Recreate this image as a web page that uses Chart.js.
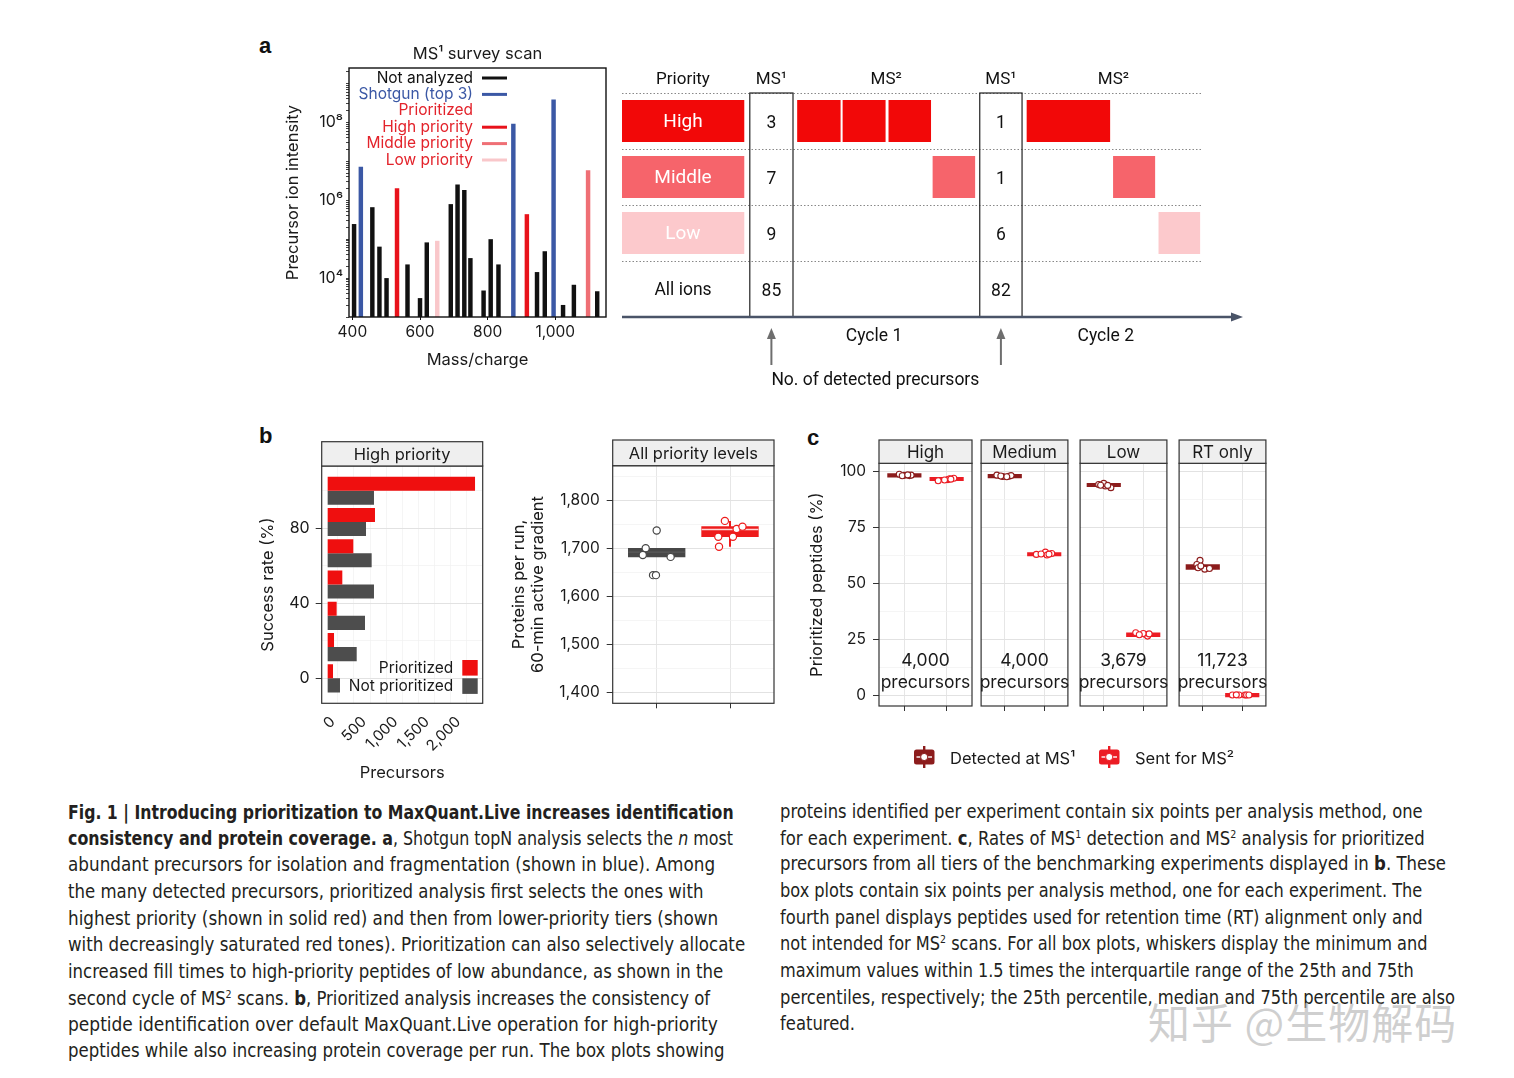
<!DOCTYPE html>
<html>
<head>
<meta charset="utf-8">
<script src="https://cdn.jsdelivr.net/npm/chart.js@4.4.1/dist/chart.umd.min.js"></script>
<style>
  html, body { margin: 0; padding: 0; background: #fff; }
  body { width: 1514px; height: 1078px; position: relative; overflow: hidden; }
  canvas { position: absolute; }
  .tag { position: absolute; font: bold 22px "Liberation Sans", Arial, sans-serif; color: #111; }
  .ln { position: absolute; white-space: nowrap; font: 19px "Liberation Sans Narrow", "DejaVu Sans Condensed", "Liberation Sans", sans-serif;
        color: #231f20; line-height: 26px; transform-origin: 0 50%; }
  .ln sup { font-size: 11px; line-height: 10px; vertical-align: 7px; }
  .wm { position: absolute; left: 1148px; top: 990px; font: 42px "Noto Sans CJK SC", sans-serif; color: rgba(175,175,175,0.6); letter-spacing: 1px; }
</style>
</head>
<body>
<div class="tag" style="left:259px;top:33px">a</div>
<div class="tag" style="left:259px;top:423px">b</div>
<div class="tag" style="left:807px;top:425px">c</div>

<div class="ln" data-w="666" style="left:68px;top:799px"><b>Fig. 1 | Introducing prioritization to MaxQuant.Live increases identification</b></div>
<div class="ln" data-w="665" style="left:68px;top:825px"><b>consistency and protein coverage. a</b>, Shotgun topN analysis selects the <i>n</i> most</div>
<div class="ln" data-w="647" style="left:68px;top:851px">abundant precursors for isolation and fragmentation (shown in blue). Among</div>
<div class="ln" data-w="635" style="left:68px;top:878px">the many detected precursors, prioritized analysis first selects the ones with</div>
<div class="ln" data-w="650" style="left:68px;top:905px">highest priority (shown in solid red) and then from lower-priority tiers (shown</div>
<div class="ln" data-w="677" style="left:68px;top:931px">with decreasingly saturated red tones). Prioritization can also selectively allocate</div>
<div class="ln" data-w="655" style="left:68px;top:958px">increased fill times to high-priority peptides of low abundance, as shown in the</div>
<div class="ln" data-w="642" style="left:68px;top:985px">second cycle of MS<sup>2</sup> scans. <b>b</b>, Prioritized analysis increases the consistency of</div>
<div class="ln" data-w="650" style="left:68px;top:1011px">peptide identification over default MaxQuant.Live operation for high-priority</div>
<div class="ln" data-w="657" style="left:68px;top:1037px">peptides while also increasing protein coverage per run. The box plots showing</div>

<div class="ln" data-w="643" style="left:780px;top:798px">proteins identified per experiment contain six points per analysis method, one</div>
<div class="ln" data-w="645" style="left:780px;top:825px">for each experiment. <b>c</b>, Rates of MS<sup>1</sup> detection and MS<sup>2</sup> analysis for prioritized</div>
<div class="ln" data-w="666" style="left:780px;top:850px">precursors from all tiers of the benchmarking experiments displayed in <b>b</b>. These</div>
<div class="ln" data-w="642" style="left:780px;top:877px">box plots contain six points per analysis method, one for each experiment. The</div>
<div class="ln" data-w="643" style="left:780px;top:904px">fourth panel displays peptides used for retention time (RT) alignment only and</div>
<div class="ln" data-w="648" style="left:780px;top:930px">not intended for MS<sup>2</sup> scans. For all box plots, whiskers display the minimum and</div>
<div class="ln" data-w="634" style="left:780px;top:957px">maximum values within 1.5 times the interquartile range of the 25th and 75th</div>
<div class="ln" data-w="675" style="left:780px;top:984px">percentiles, respectively; the 25th percentile, median and 75th percentile are also</div>
<div class="ln" data-w="75" style="left:780px;top:1010px">featured.</div>
<div class="wm">知乎 @生物解码</div>

<script>
// ---- a: MS1 survey scan (m/z and intensity of each precursor)
const mzNotAnalyzed = [405, 459, 480, 501, 563, 600, 620, 691, 711, 731, 749, 788, 809, 832, 946, 969, 1023, 1055, 1124];
const intNotAnalyzed = [2.4e5, 6.5e5, 6.3e4, 9.8e3, 2.2e4, 3.0e3, 8.1e4, 7.8e5, 2.5e6, 1.8e6, 3.2e4, 4.7e3, 9.8e4, 2.2e4, 1.4e4, 4.8e4, 2.0e3, 6.6e3, 4.5e3];
const mzShotgun = [425, 876, 995];
const intShotgun = [7.1e6, 9.1e7, 3.8e8];
const mzHigh = [532, 916];
const intHigh = [2.0e6, 4.3e5];
const mzMiddle = [1097];
const intMiddle = [5.8e6];
const mzLow = [651];
const intLow = [8.9e4];
const mzTicks = [400, 600, 800, 1000];
const intensityLabels = { 4: '10⁴', 6: '10⁶', 8: '10⁸' };

// ---- a: acquisition cycles (time in scan slots)
const priorityRows = ['High', 'Middle', 'Low', 'All ions'];
const tierBox = [0, 2.71];
const ms1Windows = [[2.84, 3.8], [7.95, 8.89]];
const ms1Detected = [[3, 7, 9, 85], [1, 1, 6, 82]];
const ms2Rows = ['High', 'High', 'High', 'Middle', 'High', 'Middle', 'Low'];
const ms2Start = [3.90, 4.91, 5.93, 6.91, 9.0, 10.92, 11.93];
const ms2End = [4.85, 5.85, 6.86, 7.84, 10.84, 11.84, 12.84];
const cycleLabels = ['Cycle 1', 'Cycle 2'];
const cycleLabelAt = [5.6, 10.75];

// ---- b: success rate vs precursors
const successRate = [0, 16.67, 33.33, 50, 66.67, 83.33, 100];
const precursorsPrioritized = [85, 101, 143, 233, 408, 753, 2345];
const precursorsNotPrioritized = [196, 462, 594, 737, 700, 610, 737];
const precursorTicks = [0, 500, 1000, 1500, 2000];

// ---- b: proteins per run
const proteinGroups = ['Not prioritized', 'Prioritized'];
const proteinsPerRun = [[1738, 1701, 1687, 1683, 1645, 1645], [1758, 1741, 1746, 1725, 1725, 1704]];
const proteinsJitter = [[0, -0.15, -0.19, 0.19, -0.05, -0.01], [-0.07, 0.09, 0.17, -0.16, 0.04, -0.15]];
const proteinsBox = [[1683, 1693, 1701], [1725, 1740, 1746]]; // q1, median, q3
const proteinsWhisker = [null, [1704, 1758]];

// ---- c: prioritized peptides (%)
const tiers = ['High', 'Medium', 'Low', 'RT only'];
const tierPrecursors = ['4,000', '4,000', '3,679', '11,723'];
const detectedBox = [[97.6, 98.5, 98.9], [97.3, 98.0, 98.6], [93.3, 94.1, 94.8], [56.3, 57.4, 58.4]];
const sentBox = [[96.0, 96.6, 97.4], [62.3, 63.1, 63.5], [26.2, 27.2, 27.9], [0, 0, 0]];
const detectedPts = [[98.9, 98.4, 98.3, 98.5, 98.2, 98.6], [98.5, 97.9, 98.0, 98.3, 97.8, 98.1],
                     [94.3, 93.6, 92.9, 94.8, 94.0, 93.9], [60.3, 58.5, 57.0, 56.4, 56.7, 57.8]];
const sentPts = [[96.0, 96.5, 96.9, 97.1, 96.3, 96.7], [63.0, 64.0, 62.7, 63.4, 63.2, 63.1],
                 [27.9, 27.2, 26.4, 27.6, 27.0, 27.4], [0, 0, 0, 0, 0, 0.1]];
const detectedJitter = [[-0.12, 0.0, 0.12, 0.16, -0.05, 0.08], [-0.2, -0.05, 0.1, 0.16, 0.05, -0.1],
                        [-0.13, 0.04, 0.18, 0.0, -0.08, 0.1], [-0.07, -0.15, -0.12, 0.05, 0.17, -0.05]];
const sentJitter = [[-0.2, 0.03, 0.07, 0.17, -0.05, 0.1], [-0.2, 0.03, 0.07, 0.19, -0.08, 0.12],
                    [-0.19, 0.05, 0.11, 0.0, -0.1, 0.15], [-0.25, -0.08, 0.07, 0.11, 0.17, -0.15]];

Chart.defaults.font.family = 'Inter, "Noto Sans", sans-serif';
Chart.defaults.font.size = 15;
Chart.defaults.color = '#1a1a1a';
Chart.defaults.animation = false;
Chart.defaults.responsive = false;
Chart.defaults.plugins.legend.display = false;
Chart.defaults.plugins.tooltip.enabled = false;

const FONT = 'Inter, "Noto Sans", sans-serif';
const NARROW = 'Roboto, "Noto Sans", sans-serif';

function mk(left, top, w, h) {
  const c = document.createElement('canvas');
  c.width = w; c.height = h;
  c.style.left = left + 'px'; c.style.top = top + 'px';
  c.style.width = w + 'px'; c.style.height = h + 'px';
  document.body.appendChild(c);
  return c;
}

function frame(ctx, a) {
  ctx.save();
  ctx.strokeStyle = '#333'; ctx.lineWidth = 1.2;
  ctx.strokeRect(a.left, a.top, a.right - a.left, a.bottom - a.top);
  ctx.restore();
}

function strip(ctx, a, top, text, size) {
  ctx.save();
  ctx.fillStyle = '#efefef';
  ctx.fillRect(a.left, top, a.right - a.left, a.top - top);
  ctx.strokeStyle = '#333'; ctx.lineWidth = 1.2;
  ctx.strokeRect(a.left, top, a.right - a.left, a.top - top);
  ctx.fillStyle = '#1a1a1a'; ctx.font = size + 'px ' + FONT;
  ctx.textAlign = 'center'; ctx.textBaseline = 'middle';
  ctx.fillText(text, (a.left + a.right) / 2, (top + a.top) / 2 + 1);
  ctx.restore();
}

// grid for ggplot-like major / minor lines
function ggGrid(isMajor, tickLength, drawTicks) {
  return {
    offset: false,
    drawTicks: drawTicks !== false,
    tickLength: tickLength,
    color: c => (c.tick && isMajor(c.tick.value)) ? '#e2e2e2' : '#f0f0f0',
    lineWidth: c => (c.tick && isMajor(c.tick.value)) ? 1 : 0.7,
    tickColor: c => (c.tick && isMajor(c.tick.value)) ? '#333' : 'rgba(0,0,0,0)'
  };
}

// ================= a, left: survey scan =================
const scanSets = [
  ['Not analyzed', mzNotAnalyzed, intNotAnalyzed, '#111111', '#111111'],
  ['Shotgun (top 3)', mzShotgun, intShotgun, '#3b58a5', '#3b58a5'],
  ['High priority', mzHigh, intHigh, '#e8121b', '#e3232b'],
  ['Middle priority', mzMiddle, intMiddle, '#ef6f75', '#e3232b'],
  ['Low priority', mzLow, intLow, '#f9c7ca', '#e3232b']
];

const surveyDecor = {
  id: 'surveyDecor',
  afterDraw(chart) {
    const { ctx, chartArea: a } = chart;
    ctx.save();
    ctx.strokeStyle = '#111'; ctx.lineWidth = 1.4;
    ctx.strokeRect(a.left, a.top, a.right - a.left, a.bottom - a.top);
    ctx.fillStyle = '#1a1a1a'; ctx.textAlign = 'center'; ctx.textBaseline = 'middle';
    ctx.font = '16.5px ' + FONT;
    ctx.fillText('MS¹ survey scan', (a.left + a.right) / 2, 19);
    // legend
    const rows = [scanSets[0], scanSets[1], ['Prioritized', null, null, null, '#e3232b'], scanSets[2], scanSets[3], scanSets[4]];
    ctx.font = '15.5px ' + FONT; ctx.textAlign = 'right';
    rows.forEach((r, i) => {
      const yy = 43 + i * 16.4;
      ctx.fillStyle = r[4];
      ctx.fillText(r[0], 193, yy);
      if (r[3]) {
        ctx.strokeStyle = r[3]; ctx.lineWidth = 3;
        ctx.beginPath(); ctx.moveTo(202, yy); ctx.lineTo(227, yy); ctx.stroke();
      }
    });
    ctx.restore();
  }
};

function logTicks(min, max) {
  const t = [];
  for (let e = 3; e <= 9; e++) {
    for (let m = 1; m <= 9; m++) {
      const v = m * Math.pow(10, e);
      if (v >= min && v <= max) t.push({ value: v });
    }
  }
  return t;
}

new Chart(mk(280, 35, 340, 345), {
  type: 'bar',
  data: {
    datasets: scanSets.map(s => ({
      label: s[0],
      data: s[1].map((mz, i) => ({ x: mz, y: s[2][i] })),
      backgroundColor: s[3]
    }))
  },
  options: {
    layout: { padding: { top: 33, right: 14, left: 0, bottom: 0 } },
    datasets: { bar: { grouped: false, barThickness: 3.8 } },
    scales: {
      x: {
        type: 'linear', min: 390, max: 1150, offset: false,
        afterBuildTicks: s => { s.ticks = mzTicks.map(v => ({ value: v })); },
        ticks: { autoSkip: false, maxRotation: 0, padding: 3, font: { size: 15.5 }, callback: v => v.toLocaleString('en-US') },
        grid: { offset: false, drawOnChartArea: false, tickLength: 3, color: '#111' },
        border: { display: false },
        title: { display: true, text: 'Mass/charge', font: { size: 16.5 }, padding: { top: 0, bottom: 10 } },
        afterFit: s => { s.height = 63; }
      },
      y: {
        type: 'logarithmic', min: 1e3, max: 2.5e9,
        afterBuildTicks: s => { s.ticks = logTicks(1e3, 2.5e9); },
        ticks: { autoSkip: false, padding: 3, font: { size: 16 },
                 callback: v => { const e = Math.log10(v); return Number.isInteger(e) && intensityLabels[e] ? intensityLabels[e] : ''; } },
        grid: { drawOnChartArea: false, tickLength: 3, color: '#111', lineWidth: 0.8 },
        border: { display: false },
        title: { display: true, text: 'Precursor ion intensity', font: { size: 16.5 }, padding: { top: 3, bottom: 0 } },
        afterFit: s => { s.width = 69; }
      }
    }
  },
  plugins: [surveyDecor]
});

// ================= a, right: acquisition cycles =================
const rowColor = { High: '#f20808', Middle: '#f6646b', Low: '#fcc9cc' };

function arrowHead(ctx, x, y, dx, dy, len, half) {
  const nx = -dy, ny = dx;
  ctx.beginPath();
  ctx.moveTo(x, y);
  ctx.lineTo(x - dx * len + nx * half, y - dy * len + ny * half);
  ctx.lineTo(x - dx * len - nx * half, y - dy * len - ny * half);
  ctx.closePath(); ctx.fill();
}

const cycleDecor = {
  id: 'cycleDecor',
  beforeDatasetsDraw(chart) {
    const { ctx, scales: { x, y } } = chart;
    const step = y.getPixelForValue(1) - y.getPixelForValue(0);
    ctx.save();
    ctx.strokeStyle = '#888'; ctx.lineWidth = 1; ctx.setLineDash([1.5, 2]);
    for (let i = 0; i < priorityRows.length; i++) {
      const py = Math.round(y.getPixelForValue(i) - step / 2) + 0.5;
      ctx.beginPath(); ctx.moveTo(x.getPixelForValue(0), py); ctx.lineTo(x.getPixelForValue(12.9), py); ctx.stroke();
    }
    ctx.restore();
  },
  afterDatasetsDraw(chart) {
    const { ctx, chartArea: a, scales: { x, y } } = chart;
    const step = y.getPixelForValue(1) - y.getPixelForValue(0);
    const top = y.getPixelForValue(0) - step / 2;
    const cx = w => x.getPixelForValue((w[0] + w[1]) / 2);
    ctx.save();
    // MS1 windows
    ctx.strokeStyle = '#222'; ctx.lineWidth = 1.2;
    ms1Windows.forEach(w => {
      const x0 = x.getPixelForValue(w[0]), x1 = x.getPixelForValue(w[1]);
      ctx.strokeRect(x0, top, x1 - x0, a.bottom - top);
    });
    // time axis
    const ax0 = x.getPixelForValue(0), ax1 = x.getPixelForValue(x.max);
    ctx.strokeStyle = '#4a5468'; ctx.fillStyle = '#4a5468'; ctx.lineWidth = 2.5;
    ctx.beginPath(); ctx.moveTo(ax0, a.bottom); ctx.lineTo(ax1 - 8, a.bottom); ctx.stroke();
    arrowHead(ctx, ax1, a.bottom, 1, 0, 12, 4.5);
    // arrows up to MS1 windows
    ctx.strokeStyle = '#6e6e6e'; ctx.fillStyle = '#6e6e6e'; ctx.lineWidth = 2;
    ms1Windows.forEach(w => {
      const px = cx(w);
      ctx.beginPath(); ctx.moveTo(px, 305); ctx.lineTo(px, 276); ctx.stroke();
      arrowHead(ctx, px, 268, 0, -1, 11, 4.5);
    });
    // header row
    ctx.fillStyle = '#111'; ctx.textAlign = 'center'; ctx.textBaseline = 'middle';
    ctx.font = '17px ' + NARROW;
    ctx.fillText('Priority', x.getPixelForValue((tierBox[0] + tierBox[1]) / 2), 19.5);
    ms1Windows.forEach((w, k) => {
      ctx.fillText('MS¹', cx(w), 19.5);
      const inCycle = ms2Start.map((s, i) => i).filter(i => (k === 0 ? ms2Start[i] < ms1Windows[1][0] : ms2Start[i] > ms1Windows[1][0]));
      const s0 = Math.min(...inCycle.map(i => ms2Start[i])), s1 = Math.max(...inCycle.map(i => ms2End[i]));
      ctx.fillText('MS²', x.getPixelForValue((s0 + s1) / 2), 19.5);
    });
    // tier labels
    ctx.font = '19px ' + NARROW; ctx.fillStyle = '#fff';
    priorityRows.slice(0, 3).forEach((r, i) => ctx.fillText(r, x.getPixelForValue((tierBox[0] + tierBox[1]) / 2), y.getPixelForValue(i) + 1));
    ctx.fillStyle = '#111'; ctx.font = '17.5px ' + NARROW;
    ctx.fillText(priorityRows[3], x.getPixelForValue((tierBox[0] + tierBox[1]) / 2), y.getPixelForValue(3) + 2);
    // numbers of detected precursors
    ms1Windows.forEach((w, k) => {
      ms1Detected[k].forEach((n, r) => ctx.fillText(String(n), cx(w), y.getPixelForValue(r) + 3));
    });
    cycleLabels.forEach((t, k) => ctx.fillText(t, x.getPixelForValue(cycleLabelAt[k]), 277));
    ctx.fillText('No. of detected precursors', x.getPixelForValue(5.63), 321);
    ctx.restore();
  }
};

new Chart(mk(610, 60, 650, 335), {
  type: 'bar',
  data: {
    labels: priorityRows,
    datasets: [
      { label: 'tiers', data: priorityRows.slice(0, 3).map(r => ({ y: r, x: tierBox })),
        backgroundColor: c => (c.raw ? rowColor[c.raw.y] : '#f20808') },
      { label: 'MS2 scans', data: ms2Rows.map((r, i) => ({ y: r, x: [ms2Start[i], ms2End[i]] })),
        backgroundColor: c => (c.raw ? rowColor[c.raw.y] : '#f20808') }
    ]
  },
  options: {
    indexAxis: 'y',
    layout: { padding: { left: 12, right: 17, top: 33, bottom: 78 } },
    datasets: { bar: { grouped: false, barThickness: 41.5 } },
    scales: {
      x: { type: 'linear', min: 0, max: 13.8, display: false },
      y: { type: 'category', display: false }
    }
  },
  plugins: [cycleDecor]
});

// ================= b, left: success rate =================
const successDecor = {
  id: 'successDecor',
  afterDraw(chart) {
    const { ctx, chartArea: a, scales: { x } } = chart;
    frame(ctx, a);
    strip(ctx, a, 21.7, 'High priority', 16.5);
    ctx.save();
    // rotated tick labels of the precursor axis
    ctx.fillStyle = '#1a1a1a'; ctx.font = '15px ' + FONT;
    ctx.textAlign = 'right'; ctx.textBaseline = 'middle';
    precursorTicks.forEach(v => {
      ctx.save();
      ctx.translate(x.getPixelForValue(v) + 5, a.bottom + 16);
      ctx.rotate(-Math.PI / 4);
      ctx.fillText(v.toLocaleString('en-US'), 0, 0);
      ctx.restore();
    });
    // legend
    ctx.font = '15.5px ' + FONT;
    chart.data.datasets.forEach((d, i) => {
      const yy = 240 + i * 18.3;
      ctx.fillStyle = d.backgroundColor; ctx.fillRect(207.3, yy, 15.4, 15.6);
      ctx.fillStyle = '#1a1a1a'; ctx.fillText(d.label, 198.3, yy + 8);
    });
    ctx.restore();
  }
};

new Chart(mk(255, 420, 240, 370), {
  type: 'bar',
  data: {
    datasets: [
      { label: 'Prioritized', data: successRate.map((r, i) => ({ y: r, x: precursorsPrioritized[i] })), backgroundColor: '#ef0f0f' },
      { label: 'Not prioritized', data: successRate.map((r, i) => ({ y: r, x: precursorsNotPrioritized[i] })), backgroundColor: '#4d4d4d' }
    ]
  },
  options: {
    indexAxis: 'y',
    layout: { padding: { top: 46, right: 12.3, left: 0, bottom: 0 } },
    datasets: { bar: { categoryPercentage: 0.9, barPercentage: 1 } },
    scales: {
      x: {
        type: 'linear', min: -95, max: 2467, offset: false,
        ticks: { stepSize: 250, includeBounds: false, autoSkip: false, maxRotation: 0, padding: 2, callback: () => '' },
        grid: ggGrid(v => v % 500 === 0, 6),
        border: { display: false },
        title: { display: true, text: 'Precursors', font: { size: 16.5 }, padding: { top: 0, bottom: 7.5 } },
        afterFit: s => { s.height = 86.7; }
      },
      y: {
        type: 'linear', min: -13.3, max: 113.2, offset: false,
        ticks: { stepSize: 20, includeBounds: false, autoSkip: false, padding: 6, font: { size: 16 },
                 callback: v => (v % 40 === 0 ? v : '') },
        grid: ggGrid(v => v % 40 === 0, 6),
        border: { display: false },
        title: { display: true, text: 'Success rate (%)', font: { size: 16.5 }, padding: { top: 3.5, bottom: 0 } },
        afterFit: s => { s.width = 66.7; }
      }
    }
  },
  plugins: [successDecor]
});

// ================= b, right: proteins per run =================
const proteinColors = ['#474747', '#ee1c1c'];
const boxHalf = 0.387;

const proteinDecor = {
  id: 'proteinDecor',
  afterDraw(chart) {
    const { ctx, chartArea: a } = chart;
    frame(ctx, a);
    strip(ctx, a, 10, 'All priority levels', 16.5);
  }
};

const proteinDatasets = [];
proteinGroups.forEach((g, k) => {
  if (proteinsWhisker[k]) {
    proteinDatasets.push({ type: 'line', label: g + ' whisker', order: 4,
      data: [{ x: k + 1, y: proteinsWhisker[k][0] }, { x: k + 1, y: proteinsWhisker[k][1] }],
      borderColor: proteinColors[k], borderWidth: 2, pointRadius: 0 });
  }
  proteinDatasets.push({ type: 'line', label: g + ' median', order: 2,
    data: [{ x: k + 1 - boxHalf, y: proteinsBox[k][1] }, { x: k + 1 + boxHalf, y: proteinsBox[k][1] }],
    borderColor: k === 1 ? '#ffd9d9' : '#5a5a5a', borderWidth: 1.4, pointRadius: 0 });
  proteinDatasets.push({ type: 'scatter', label: g, order: 1,
    data: proteinsPerRun[k].map((v, i) => ({ x: k + 1 + proteinsJitter[k][i], y: v })),
    pointRadius: 3.6, pointBackgroundColor: '#fff', pointBorderColor: proteinColors[k], pointBorderWidth: 1.2 });
});
proteinDatasets.push({ type: 'bar', label: 'box', order: 3,
  data: proteinGroups.map((g, k) => ({ x: k + 1, y: [proteinsBox[k][0], proteinsBox[k][2]] })),
  backgroundColor: proteinColors, grouped: false, barThickness: 56.7 });

new Chart(mk(500, 430, 290, 290), {
  type: 'bar',
  data: { datasets: proteinDatasets },
  options: {
    layout: { padding: { top: 35.7, right: 16, left: 0, bottom: 0 } },
    scales: {
      x: {
        type: 'linear', min: 0.4, max: 2.6, offset: false,
        afterBuildTicks: s => { s.ticks = proteinGroups.map((g, k) => ({ value: k + 1 })); },
        ticks: { display: false },
        grid: { offset: false, color: '#e6e6e6', tickColor: '#333', tickLength: 5 },
        border: { display: false },
        afterFit: s => { s.height = 16.7; }
      },
      y: {
        type: 'linear', min: 1378, max: 1873, offset: false,
        ticks: { stepSize: 50, includeBounds: false, autoSkip: false, padding: 7, font: { size: 15.5 },
                 callback: v => (v % 100 === 0 ? v.toLocaleString('en-US') : '') },
        grid: ggGrid(v => v % 100 === 0, 6),
        border: { display: false },
        title: { display: true, text: ['Proteins per run,', '60-min active gradient'], font: { size: 16.5, lineHeight: 1.12 }, padding: { top: 10, bottom: 0 } },
        afterFit: s => { s.width = 112.7; }
      }
    }
  },
  plugins: [proteinDecor]
});

// ================= c: prioritized peptides =================
const detColor = '#8c1c1c';
const sentColor = '#ec1c24';
const facetLeft = [879, 978, 1077, 1176];
const facetWidth = 93;

function boxIcon(ctx, x, y, color) {
  ctx.save();
  ctx.strokeStyle = color; ctx.fillStyle = color; ctx.lineWidth = 2.4;
  ctx.beginPath(); ctx.moveTo(x + 9.2, y); ctx.lineTo(x + 9.2, y + 22); ctx.stroke();
  ctx.beginPath(); ctx.roundRect(x - 1, y + 3.5, 20.5, 15, 2.5); ctx.fill();
  ctx.strokeStyle = '#fff'; ctx.lineWidth = 1.4;
  ctx.beginPath(); ctx.moveTo(x + 1.5, y + 11); ctx.lineTo(x + 17, y + 11); ctx.stroke();
  ctx.beginPath(); ctx.arc(x + 9.2, y + 11, 3.6, 0, Math.PI * 2);
  ctx.fillStyle = '#fff'; ctx.fill(); ctx.strokeStyle = color; ctx.lineWidth = 1; ctx.stroke();
  ctx.restore();
}

function facetDecor(k) {
  return {
    id: 'facetDecor' + k,
    afterDraw(chart) {
      const { ctx, chartArea: a } = chart;
      frame(ctx, a);
      strip(ctx, a, 15, tiers[k], 17);
      ctx.save();
      ctx.fillStyle = '#1a1a1a'; ctx.font = '17.5px ' + FONT;
      ctx.textAlign = 'center'; ctx.textBaseline = 'middle';
      const mid = (a.left + a.right) / 2;
      ctx.fillText(tierPrecursors[k], mid, 236);
      ctx.fillText('precursors', mid, 257.5);
      if (k === 0) {
        const sets = chart.data.datasets.filter(d => d.type === 'bar');
        ctx.font = '16.5px ' + FONT; ctx.textAlign = 'left';
        boxIcon(ctx, 115, 321, sets[0].backgroundColor);
        ctx.fillText(sets[0].label, 150, 334);
        boxIcon(ctx, 300, 321, sets[1].backgroundColor);
        ctx.fillText(sets[1].label, 335, 334);
      }
      ctx.restore();
    }
  };
}

tiers.forEach((t, k) => {
  const first = k === 0;
  const left = first ? 800 : facetLeft[k] - 2;
  const width = first ? 480 : facetWidth + 4;
  new Chart(mk(left, 425, width, 355), {
    type: 'bar',
    data: {
      datasets: [
        { type: 'bar', label: 'Detected at MS¹', order: 2, data: [{ x: 1, y: [detectedBox[k][0], detectedBox[k][2]] }], backgroundColor: detColor },
        { type: 'bar', label: 'Sent for MS²', order: 2, data: [{ x: 2, y: [sentBox[k][0], sentBox[k][2]] }], backgroundColor: sentColor },
        { type: 'scatter', label: 'detected points', order: 1,
          data: detectedPts[k].map((v, i) => ({ x: 1 + detectedJitter[k][i], y: v })),
          pointRadius: 3, pointBackgroundColor: '#fff', pointBorderColor: detColor, pointBorderWidth: 1.1 },
        { type: 'scatter', label: 'sent points', order: 1,
          data: sentPts[k].map((v, i) => ({ x: 2 + sentJitter[k][i], y: v })),
          pointRadius: 3, pointBackgroundColor: '#fff', pointBorderColor: sentColor, pointBorderWidth: 1.1 }
      ]
    },
    options: {
      layout: { padding: { top: 38.3, left: first ? 0 : 2, right: first ? 480 - 79 - facetWidth : 2, bottom: 0 } },
      datasets: { bar: { grouped: false, barThickness: 33.5, minBarLength: 3.5 } },
      scales: {
        x: {
          type: 'linear', min: 0.4, max: 2.6, offset: false,
          afterBuildTicks: s => { s.ticks = [{ value: 1 }, { value: 2 }]; },
          ticks: { display: false },
          grid: { offset: false, color: '#e6e6e6', tickColor: '#333', tickLength: 5 },
          border: { display: false },
          afterFit: s => { s.height = 74; }
        },
        y: {
          type: 'linear', min: -4.9, max: 103.8, offset: false,
          ticks: { display: first, stepSize: 12.5, includeBounds: false, autoSkip: false, padding: 7, font: { size: 15.5 },
                   callback: v => (v % 25 === 0 ? v : '') },
          grid: ggGrid(v => v % 25 === 0, 6, first),
          border: { display: false },
          title: { display: first, text: 'Prioritized peptides (%)', font: { size: 16.5 }, padding: { top: 7, bottom: 0 } },
          afterFit: s => { s.width = first ? 79 : 0; }
        }
      }
    },
    plugins: [facetDecor(k)]
  });
});

// ---- caption: fit each line to its width in the figure
function fitLines() {
  document.querySelectorAll('.ln').forEach(el => {
    const w = el.offsetWidth;
    if (w) el.style.transform = 'scaleX(' + (+el.dataset.w / w) + ')';
  });
}
fitLines();
if (document.fonts) document.fonts.ready.then(fitLines);
</script>
</body>
</html>
